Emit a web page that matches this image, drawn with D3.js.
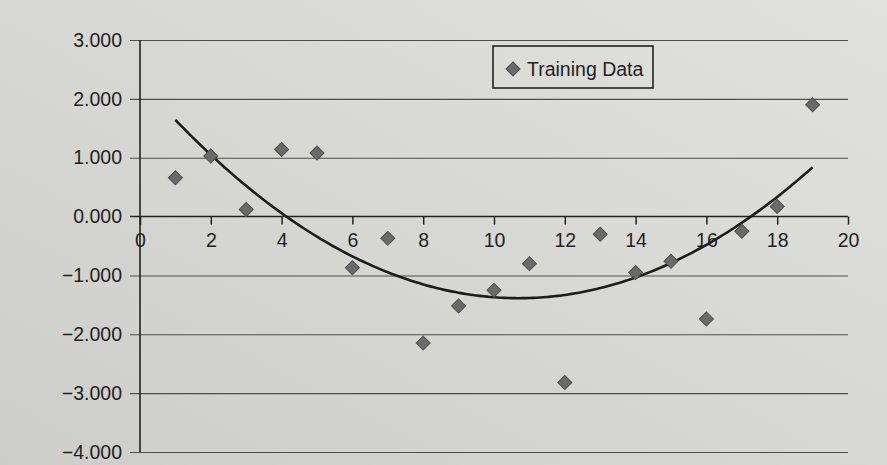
<!DOCTYPE html>
<html>
<head>
<meta charset="utf-8">
<script src="https://cdn.jsdelivr.net/npm/d3@7/dist/d3.min.js"></script>
<style>
  html, body { margin: 0; padding: 0; background: #d7d7d4; }
  svg { display: block; }
  text { font-family: "Liberation Sans", Arial, Helvetica, sans-serif; fill: #1f1f1f; }
</style>
</head>
<body>
<div id="chart"></div>
<script>
// training data
const xValues = [1, 2, 3, 4, 5, 6, 7, 8, 9, 10, 11, 12, 13, 14, 15, 16, 17, 18, 19]
const yValues = [0.66, 1.03, 0.12, 1.14, 1.08, -0.87, -0.37, -2.15, -1.52, -1.25, -0.8, -2.82, -0.3, -0.95, -0.76, -1.74, -0.25, 0.17, 1.9]

const xTicks = [0, 2, 4, 6, 8, 10, 12, 14, 16, 18, 20]
const yTicks = [3, 2, 1, 0, -1, -2, -3, -4]
const legendLabel = "Training Data"

const width = 887, height = 465
const plot = {left: 140, right: 848, top: 40, bottom: 452}

// least squares quadratic trend line (y = a + b x + c x^2)
function fitQuadratic (xs, ys) {
	const S = [[0,0,0],[0,0,0],[0,0,0]], T = [0,0,0]
	xs.forEach(function(x, i) {
		const p = [1, x, x*x]
		for (let r = 0; r < 3; r++) {
			T[r] += p[r] * ys[i]
			for (let c = 0; c < 3; c++) S[r][c] += p[r] * p[c]
		}
	})
	// gaussian elimination
	const M = S.map(function(row, r) { return row.concat([T[r]]) })
	for (let i = 0; i < 3; i++) {
		for (let k = i + 1; k < 3; k++) {
			const f = M[k][i] / M[i][i]
			for (let j = i; j < 4; j++) M[k][j] -= f * M[i][j]
		}
	}
	const coef = [0,0,0]
	for (let i = 2; i >= 0; i--) {
		let s = M[i][3]
		for (let j = i + 1; j < 3; j++) s -= M[i][j] * coef[j]
		coef[i] = s / M[i][i]
	}
	return coef
}

const svg = d3.select("#chart").append("svg")
	.attr("width", width)
	.attr("height", height)

const defs = svg.append("defs")
const grad = defs.append("linearGradient")
	.attr("id", "paper")
	.attr("x1", "0%").attr("y1", "100%")
	.attr("x2", "100%").attr("y2", "0%")
grad.append("stop").attr("offset", "0%").attr("stop-color", "#cdcdca")
grad.append("stop").attr("offset", "55%").attr("stop-color", "#d8d8d5")
grad.append("stop").attr("offset", "100%").attr("stop-color", "#e1e1de")

svg.append("rect")
	.attr("width", width)
	.attr("height", height)
	.attr("fill", "url(#paper)")

const x = d3.scaleLinear().domain([0, 20]).range([plot.left, plot.right])
const y = d3.scaleLinear().domain([-4, 3]).range([plot.bottom, plot.top])

// horizontal gridlines + y labels
const yAxis = svg.append("g")
	.attr("transform", "translate(" + plot.left + ",0)")
	.call(d3.axisLeft(y)
		.tickValues(yTicks)
		.tickSize(-(plot.right - plot.left))
		.tickPadding(18)
		.tickFormat(function(d) { return d3.format(".3f")(d).replace("-", "\u2212") }))
yAxis.select(".domain").remove()
yAxis.selectAll(".tick line")
	.attr("x1", -10)
	.attr("stroke", function(d) { return d === 0 ? "none" : "#4e4e4e" })
	.attr("stroke-width", 1.1)
yAxis.selectAll(".tick text")
	.style("font-size", "19.5px")
	.attr("fill", "#1f1f1f")

// vertical axis line
svg.append("line")
	.attr("x1", plot.left).attr("x2", plot.left)
	.attr("y1", y(3)).attr("y2", y(-4))
	.attr("stroke", "#222")
	.attr("stroke-width", 1.6)

// x axis through zero
const xAxis = svg.append("g")
	.attr("transform", "translate(0," + y(0) + ")")
	.call(d3.axisBottom(x)
		.tickValues(xTicks)
		.tickSize(8)
		.tickPadding(9)
		.tickFormat(d3.format("d")))
xAxis.select(".domain")
	.attr("d", "M" + (plot.left - 10) + ",0H" + plot.right)
	.attr("stroke", "#222")
	.attr("stroke-width", 1.6)
xAxis.selectAll(".tick line")
	.attr("stroke", "#222")
	.attr("stroke-width", 1.5)
xAxis.selectAll(".tick text")
	.style("font-size", "19.5px")
	.attr("fill", "#1f1f1f")

// trend line
const coef = fitQuadratic(xValues, yValues)
const curveXs = d3.range(d3.min(xValues), d3.max(xValues) + 0.001, 0.1)
const line = d3.line()
	.x(function(d) { return x(d) })
	.y(function(d) { return y(coef[0] + coef[1]*d + coef[2]*d*d) })
	.curve(d3.curveBasis)
svg.append("path")
	.datum(curveXs)
	.attr("d", line)
	.attr("fill", "none")
	.attr("stroke", "#1c1c1c")
	.attr("stroke-width", 2.6)

// diamonds
const diamond = d3.symbol().type(d3.symbolSquare).size(98)
svg.append("g").selectAll("path")
	.data(xValues)
	.enter().append("path")
		.attr("d", diamond)
		.attr("transform", function(d, i) { return "translate(" + x(d) + "," + y(yValues[i]) + ") rotate(45)" })
		.attr("fill", "#6a6a6a")
		.attr("stroke", "#4f4f4f")
		.attr("stroke-width", 1)

// legend
const legend = svg.append("g").attr("transform", "translate(493,46)")
legend.append("rect")
	.attr("width", 160)
	.attr("height", 42)
	.attr("fill", "none")
	.attr("stroke", "#222")
	.attr("stroke-width", 1.6)
legend.append("path")
	.attr("d", diamond)
	.attr("transform", "translate(20,23) rotate(45)")
	.attr("fill", "#6a6a6a")
	.attr("stroke", "#4f4f4f")
legend.append("text")
	.attr("x", 34)
	.attr("y", 30)
	.style("font-size", "19.5px")
	.text(legendLabel)
</script>
</body>
</html>
